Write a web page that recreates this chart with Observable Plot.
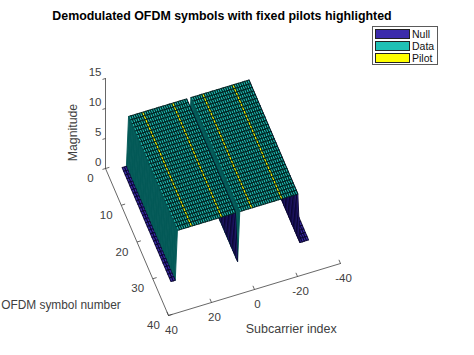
<!DOCTYPE html>
<html><head><meta charset="utf-8">
<script src="https://cdn.jsdelivr.net/npm/d3@7"></script>
<script src="https://cdn.jsdelivr.net/npm/@observablehq/plot@0.6"></script>
<style>
html,body{margin:0;padding:0;background:#fff;overflow:hidden}
#wrap{position:relative;width:474px;height:355px;overflow:hidden;font-family:"Liberation Sans",Arial,sans-serif}
#title{position:relative;left:-15px;width:474px;height:24px;box-sizing:border-box;padding-top:9px;text-align:center;font-weight:bold;font-size:12.4px;line-height:14px;color:#000;white-space:nowrap}
#legend{position:absolute;left:372px;top:26px;width:66px;height:39px;box-sizing:border-box;border:1px solid #5a5a5a;background:#fff;padding:1px 2px;font-size:10.5px;line-height:12px;color:#111}
#legend div{display:flex;align-items:center;height:12px}
#legend i{display:block;width:33px;height:8px;border:1px solid #222;margin-right:2px}
svg{display:block}
</style></head><body>
<div id="wrap"><div id="title"></div><div id="chart"></div><div id="legend"></div></div>
<script>
const titleText = "Demodulated OFDM symbols with fixed pilots highlighted";
const subcarriers = [33,32,31,30,29,28,27,26,25,24,23,22,21,20,19,18,17,16,15,14,13,12,11,10,9,8,7,6,5,4,3,2,1,0,-1,-2,-3,-4,-5,-6,-7,-8,-9,-10,-11,-12,-13,-14,-15,-16,-17,-18,-19,-20,-21,-22,-23,-24,-25,-26,-27,-28,-29,-30,-31];
const magnitudes = [0,0,0,8.2,8.2,8.2,8.2,8.2,8.2,8.2,8.2,8.2,8.2,8.2,8.2,8.2,8.2,8.2,8.2,8.2,8.2,8.2,8.2,8.2,8.2,8.2,8.2,8.2,8.2,8.2,8.2,0,8.2,8.2,8.2,8.2,8.2,8.2,8.2,8.2,8.2,8.2,8.2,8.2,8.2,8.2,8.2,8.2,8.2,8.2,8.2,8.2,8.2,8.2,8.2,8.2,8.2,8.2,8.2,8.2,0,0,0,0,0];
const pilotSubcarriers = [23,9,-5,-19];
const symbols = [1,2,3,4,5,6,7,8,9,10,11,12,13,14,15,16,17,18,19,20,21,22,23,24,25,26,27,28,29,30,31,32];
const xTicks = [40,20,0,-20,-40];
const yTicks = [0,10,20,30,40];
const zTicks = [0,5,10,15];
const kindColors = {Null:"#3b2bab",Data:"#1fc0b5",Pilot:"#ffff00"};
const edgeColors = {Null:"#0a0530",Data:"#002020",Pilot:"#002020",Wall:"#045a58"};

// Camera: orthographic projection of (subcarrier, symbol, magnitude) on to the page
const cam = {ox:105, oy:168, kx:2.15, ky:-0.65, sx:1.575, sy:3.675, zy:6};
const px = (k,s) => cam.ox + (40-k)*cam.kx + s*cam.sx;
const py = (k,s,z) => cam.oy + (40-k)*cam.ky + s*cam.sy - z*cam.zy;

// Surface cells, far to near so that nearer cells paint over farther ones
const cells = [];
for (let si = 0; si < symbols.length-1; si++) {
  for (let i = subcarriers.length-2; i >= 0; i--) {
    const k0 = subcarriers[i], k1 = subcarriers[i+1];
    const z0 = magnitudes[i], z1 = magnitudes[i+1];
    const s0 = symbols[si], s1 = symbols[si+1];
    const kind = z1 === 0 ? "Null" : pilotSubcarriers.includes(k1) ? "Pilot" : "Data";
    const isWall = z0 !== z1 && kind === "Data";
    const fill = isWall ? edgeColors.Wall : kindColors[kind];
    const stroke = isWall ? edgeColors.Wall : edgeColors[kind];
    const id = si + ":" + i;
    for (const [k,s,z] of [[k0,s0,z0],[k1,s0,z1],[k1,s1,z1],[k0,s1,z0],[k0,s0,z0]]) {
      cells.push({id,fill,stroke,X:px(k,s),Y:py(k,s,z)});
    }
  }
}

const axisColor = "#404040";
const xAxis = [40,-40].map(k => ({X:px(k,40),Y:py(k,40,0)}));
const yAxis = [0,40].map(s => ({X:px(40,s),Y:py(40,s,0)}));
const zAxis = [0,15].map(z => ({X:px(40,0),Y:py(40,0,z)}));
const xTickMarks = xTicks.map(k => ({x1:px(k,40),y1:py(k,40,0),x2:px(k,39),y2:py(k,39,0)}));
const yTickMarks = yTicks.map(s => ({x1:px(40,s),y1:py(40,s,0),x2:px(38.2,s),y2:py(38.2,s,0)}));
const zTickMarks = zTicks.map(z => ({x1:px(40,0),y1:py(40,0,z),x2:px(41.4,0),y2:py(41.4,0,z)}));
const txt = {fontSize:11.5, fill:axisColor, fontFamily:"Liberation Sans, Arial, sans-serif"};

document.getElementById("title").textContent = titleText;
document.getElementById("legend").innerHTML = Object.keys(kindColors).map(k=>`<div><i style="background:${kindColors[k]}"></i>${k}</div>`).join("");

const chart = Plot.plot({
  width:474, height:331, margin:0,
  x:{domain:[0,474],range:[0,474],axis:null},
  y:{domain:[24,355],range:[0,331],axis:null},
  color:{type:"identity"},
  style:{background:"#fff",overflow:"hidden"},
  marks:[
    Plot.line(xAxis,{x:"X",y:"Y",stroke:axisColor,strokeWidth:0.8}),
    Plot.line(yAxis,{x:"X",y:"Y",stroke:axisColor,strokeWidth:0.8}),
    Plot.line(zAxis,{x:"X",y:"Y",stroke:axisColor,strokeWidth:0.8}),
    Plot.link(xTickMarks,{x1:"x1",y1:"y1",x2:"x2",y2:"y2",stroke:axisColor,strokeWidth:0.8}),
    Plot.link(yTickMarks,{x1:"x1",y1:"y1",x2:"x2",y2:"y2",stroke:axisColor,strokeWidth:0.8}),
    Plot.link(zTickMarks,{x1:"x1",y1:"y1",x2:"x2",y2:"y2",stroke:axisColor,strokeWidth:0.8}),
    Plot.line(cells,{x:"X",y:"Y",z:"id",fill:"fill",stroke:"stroke",strokeWidth:1.05,strokeOpacity:0.92,curve:"linear"}),
    Plot.text(xTicks,{x:k=>px(k,40),y:k=>py(k,40,0),text:String,dx:3,dy:15,...txt}),
    Plot.text(yTicks,{x:s=>px(40,s),y:s=>py(40,s,0),text:String,dx:-15,dy:10,...txt}),
    Plot.text(zTicks,{x:z=>px(40,0),y:z=>py(40,0,z),text:String,textAnchor:"end",dx:-4,dy:-6,...txt}),
    Plot.text(["Magnitude"],{x:()=>px(40,0),y:()=>py(40,0,6),text:String,rotate:-90,dx:-32,dy:0,...txt,fontSize:12.3}),
    Plot.text(["OFDM symbol number"],{x:()=>px(40,30),y:()=>py(40,30,0),text:String,textAnchor:"end",dx:-32,dy:26,...txt,fontSize:11.9}),
    Plot.text(["Subcarrier index"],{x:()=>px(-5,40),y:()=>py(-5,40,0),text:String,dx:26,dy:43,...txt,fontSize:12.5})
  ]
});
document.getElementById("chart").appendChild(chart);
</script>
</body></html>
